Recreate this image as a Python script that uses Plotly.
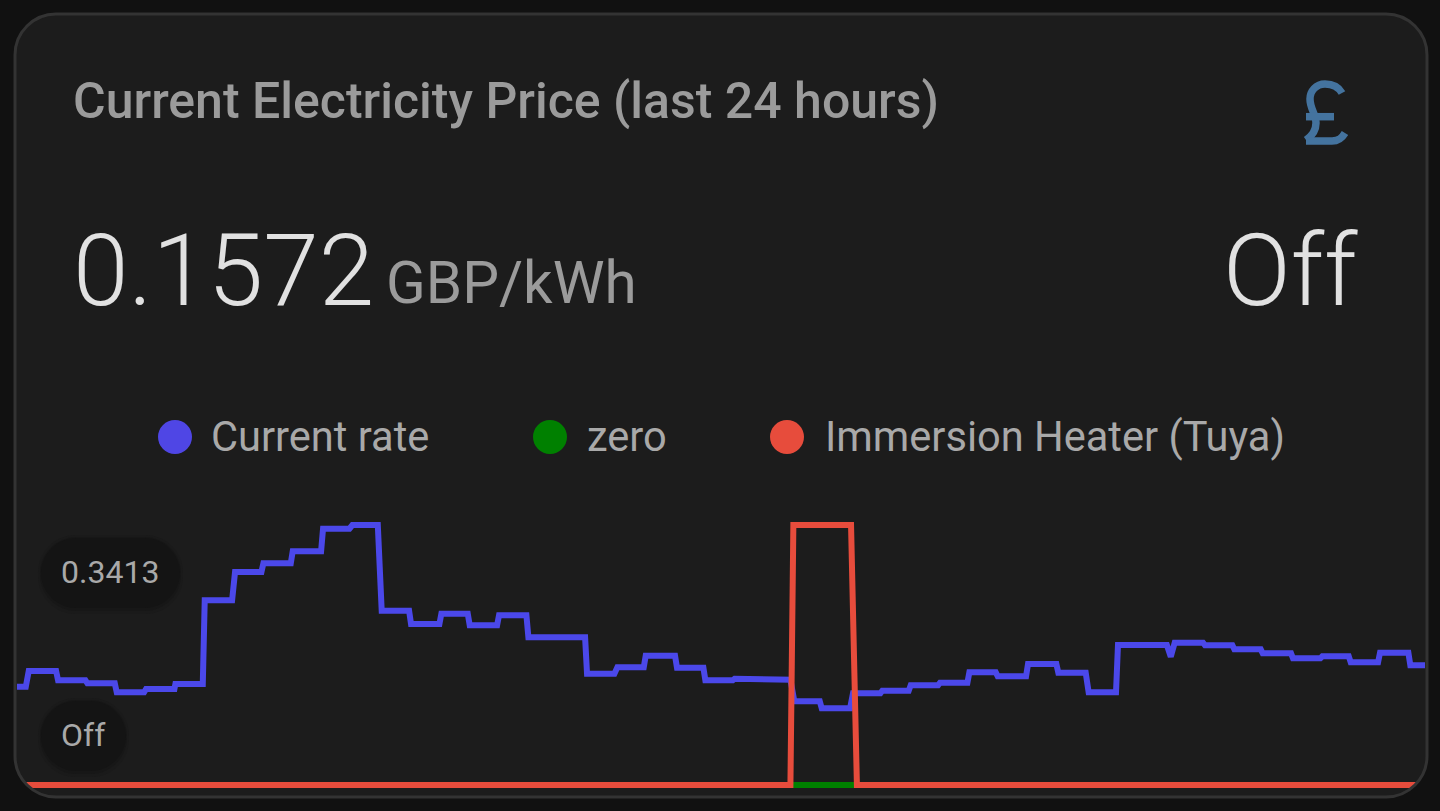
import plotly.graph_objects as go

# minutes since the start of the 24 hour window, two points per half hour block
rate_minutes = [0, 9, 12, 40, 42, 70, 72, 100, 102, 130, 132, 161, 162, 190, 192, 220,
                223, 250, 252, 280, 282, 311, 313, 340, 343, 369, 373, 401, 403, 432, 434, 461,
                463, 491, 493, 521, 523, 581, 583, 611, 614, 641, 643, 673, 675, 702, 704, 732,
                734, 762, 764, 791, 795, 821, 823, 852, 855, 883, 885, 912, 914, 942, 944, 972,
                974, 1001, 1003, 1032, 1034, 1063, 1065, 1093, 1096, 1124, 1126, 1176, 1180, 1184, 1213, 1215,
                1243, 1245, 1272, 1274, 1303, 1305, 1333, 1335, 1362, 1364, 1392, 1394, 1423, 1425, 1440]
rate_values = [.1290, .1290, .1496, .1496, .1374, .1374, .1335, .1335, .1217, .1217, .1260, .1260, .1326, .1326, .2425, .2425,
               .2796, .2796, .2910, .2910, .3068, .3068, .3365, .3365, .3413, .3413, .2288, .2288, .2113, .2113, .2249, .2249,
               .2096, .2096, .2228, .2228, .1939, .1939, .1461, .1461, .1545, .1545, .1697, .1697, .1540, .1540, .1374, .1374,
               .1395, .1395, .1382, .1382, .1099, .1099, .1007, .1007, .1204, .1204, .1238, .1238, .1309, .1309, .1343, .1343,
               .1479, .1479, .1427, .1427, .1588, .1588, .1474, .1474, .1217, .1217, .1838, .1838, .1684, .1868, .1868, .1834,
               .1834, .1781, .1781, .1729, .1729, .1663, .1663, .1689, .1689, .1611, .1611, .1737, .1737, .1571, .1571]

zero_minutes = [0, 1440]
zero_values = [0, 0]

heater_minutes = [0, 791, 794, 853, 859, 1440]
heater_values = [0, 0, 1, 1, 0, 0]

legend_labels = ["Current rate", "zero", "Immersion Heater (Tuya)"]
legend_colors = ["#4f46e5", "#008000", "#e74c3c"]

max_rate = 0.3413
BG = "#111111"
CARD = "#1c1c1c"
BORDER = "#333333"


def rounded_rect(x0, y0, x1, y1, r, reverse=False):
    k = r * 0.448  # bezier offset for a quarter circle
    if reverse:
        return (f"M{x0},{y0 + r} L{x0},{y1 - r} C{x0},{y1 - k} {x0 + k},{y1} {x0 + r},{y1} L{x1 - r},{y1} "
                f"C{x1 - k},{y1} {x1},{y1 - k} {x1},{y1 - r} L{x1},{y0 + r} C{x1},{y0 + k} {x1 - k},{y0} {x1 - r},{y0} "
                f"L{x0 + r},{y0} C{x0 + k},{y0} {x0},{y0 + k} {x0},{y0 + r} Z")
    return (f"M{x0 + r},{y0} L{x1 - r},{y0} C{x1 - k},{y0} {x1},{y0 + k} {x1},{y0 + r} L{x1},{y1 - r} "
            f"C{x1},{y1 - k} {x1 - k},{y1} {x1 - r},{y1} L{x0 + r},{y1} C{x0 + k},{y1} {x0},{y1 - k} {x0},{y1 - r} "
            f"L{x0},{y0 + r} C{x0},{y0 + k} {x0 + k},{y0} {x0 + r},{y0} Z")


fig = go.Figure()
fig.add_trace(go.Scatter(x=rate_minutes, y=rate_values, mode="lines", name=legend_labels[0],
                         line=dict(color="#4b48ea", width=6), xaxis="x", yaxis="y"))
fig.add_trace(go.Scatter(x=zero_minutes, y=zero_values, mode="lines", name=legend_labels[1],
                         line=dict(color=legend_colors[1], width=6), xaxis="x", yaxis="y"))
fig.add_trace(go.Scatter(x=heater_minutes, y=heater_values, mode="lines", name=legend_labels[2],
                         line=dict(color=legend_colors[2], width=6), xaxis="x", yaxis="y3"))

shapes = []
# pills behind the min / max labels, layered to fake the soft shadow
for x0, y0, x1, y1 in [(40, 537, 181, 608), (40, 700, 127, 771)]:
    h = (y1 - y0) / 2
    shapes.append(dict(type="path", path=rounded_rect(x0 - 2, y0 - 2, x1 + 2, y1 + 6, h + 2), xref="x2", yref="y2",
                       fillcolor="#1a1a1a", line_width=0, layer="above"))
    shapes.append(dict(type="path", path=rounded_rect(x0, y0, x1, y1 + 3, h + 1), xref="x2", yref="y2",
                       fillcolor="#171717", line_width=0, layer="above"))
    shapes.append(dict(type="path", path=rounded_rect(x0 + 1, y0 + 1, x1 - 1, y1, h), xref="x2", yref="y2",
                       fillcolor="#141414", line_width=0, layer="above"))
# legend dots
for cx, color in zip([175, 550, 787], legend_colors):
    shapes.append(dict(type="circle", x0=cx - 17, x1=cx + 17, y0=420, y1=454, xref="x2", yref="y2",
                       fillcolor=color, line_width=0, layer="above"))
# currency icon
icon = "#44739e"
for p in ["M1342,93 C1338,86 1332,84 1325,84 C1316,84 1310,91 1310,99 C1310,109 1316,114 1316,123 C1316,130 1312,136 1306,140",
          "M1306,116.7 L1334,116.7",
          "M1306,141 L1332,141 C1339,141 1342,138 1345,133"]:
    shapes.append(dict(type="path", path=p, xref="x2", yref="y2", line=dict(color=icon, width=7.5), layer="above"))
# page colour outside the card, then the card border on top of the traces
frame = "M0,0 L1440,0 L1440,811 L0,811 Z " + rounded_rect(15, 14, 1427, 797, 41, reverse=True)
shapes.append(dict(type="path", path=frame, xref="x2", yref="y2", fillcolor=BG, line_width=0, layer="above"))
shapes.append(dict(type="path", path=rounded_rect(15, 14, 1427, 797, 41), xref="x2", yref="y2",
                   line=dict(color=BORDER, width=3), layer="above"))


def label(text, x, y, size, color, anchor="left", weight=400):
    return dict(text=text, x=x, y=y, xref="x2", yref="y2", xanchor=anchor, yanchor="middle", showarrow=False,
                font=dict(family="Roboto", size=size, color=color, weight=weight))


annotations = [
    label("Current Electricity Price (last 24 hours)", 71, 101, 50, "#9b9b9b", weight=500),
    label("0.1572", 71, 270, 100, "#e1e1e1", weight=300),
    label("GBP/kWh", 384, 283, 58.4, "#9b9b9b"),
    label("Off", 1360, 270, 100, "#e1e1e1", anchor="right", weight=300),
    label(legend_labels[0], 209, 436, 41.6, "#a9a9a9"),
    label(legend_labels[1], 585, 436, 41.6, "#a9a9a9"),
    label(legend_labels[2], 823, 436, 41.6, "#a9a9a9"),
    label("0.3413", 110, 572, 32, "#a9a9a9", anchor="center"),
    label("Off", 83, 735, 32, "#a9a9a9", anchor="center"),
]

hidden = dict(visible=False, showgrid=False, zeroline=False, fixedrange=True)
fig.update_layout(
    width=1440, height=811, autosize=False, showlegend=False,
    margin=dict(l=0, r=0, t=0, b=0, pad=0),
    paper_bgcolor=CARD, plot_bgcolor="rgba(0,0,0,0)",
    xaxis=dict(hidden, domain=[17 / 1440, 1425 / 1440], range=[0, 1440]),
    yaxis=dict(hidden, domain=[16 / 811, 301 / 811], range=[-10 / 260 * max_rate, 275 / 260 * max_rate]),
    yaxis3=dict(hidden, domain=[16 / 811, 301 / 811], range=[-10 / 260, 275 / 260], anchor="x"),
    xaxis2=dict(hidden, domain=[0, 1], range=[0, 1440], anchor="y2"),
    yaxis2=dict(hidden, domain=[0, 1], range=[811, 0], anchor="x2"),
    shapes=shapes, annotations=annotations,
)

fig.write_html("out.html", config=dict(displayModeBar=False),
               post_script="document.body.style.margin='0';document.body.style.background='#111111';")
